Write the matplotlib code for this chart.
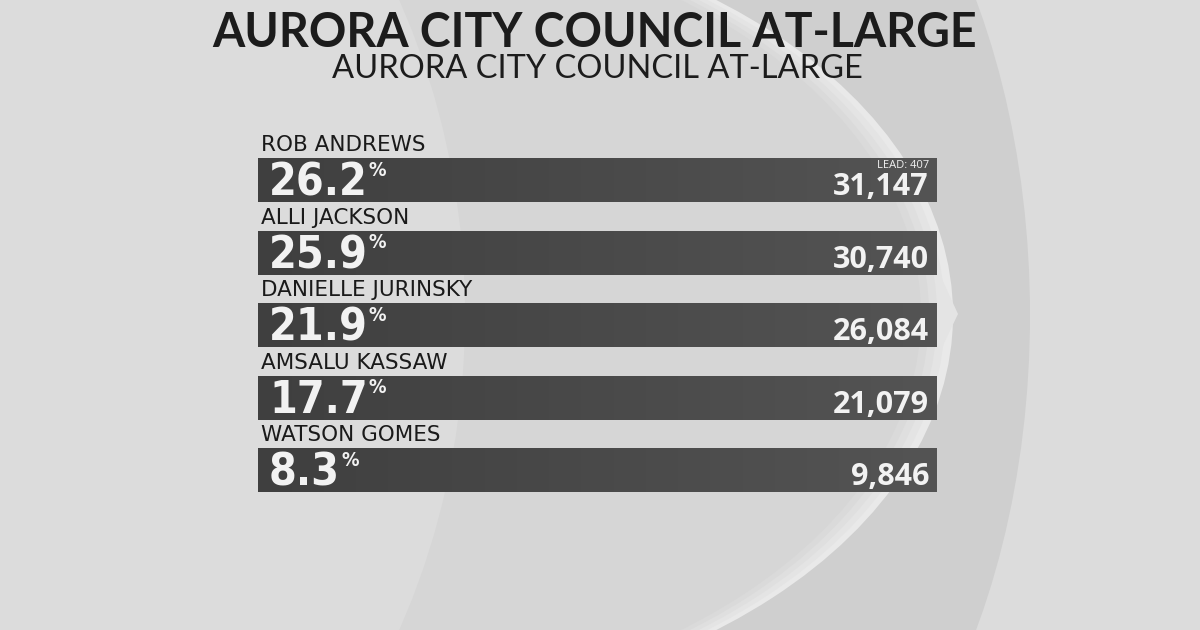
import matplotlib.pyplot as plt
from matplotlib.patches import Ellipse, Polygon
from matplotlib.colors import LinearSegmentedColormap
from matplotlib import font_manager
import numpy as np

title = 'AURORA CITY COUNCIL AT-LARGE'
subtitle = 'AURORA CITY COUNCIL AT-LARGE'
candidates = ['ROB ANDREWS', 'ALLI JACKSON', 'DANIELLE JURINSKY', 'AMSALU KASSAW', 'WATSON GOMES']
percents = [26.2, 25.9, 21.9, 17.7, 8.3]
votes = [31147, 30740, 26084, 21079, 9846]
lead = 407

# look for a condensed bold face for the big percentages
cond = None
for f in font_manager.fontManager.ttflist:
    s = (f.name + ' ' + str(f.stretch) + ' ' + f.fname).lower()
    if ('condensed' in s or 'narrow' in s) and f.weight in ('bold', 700, 'heavy', 800, 'black', 900):
        cond = font_manager.FontProperties(fname=f.fname)
        break
if cond is None:
    cond = font_manager.FontProperties(family='Roboto', weight='bold')

fig = plt.figure(figsize=(12, 6.3), dpi=100)
fig.patch.set_facecolor('#dcdcdc')
ax = fig.add_axes([0, 0, 1, 1])
ax.set_xlim(0, 1200)
ax.set_ylim(630, 0)
ax.axis('off')

# background swooshes
ax.add_patch(Ellipse((668, 315), 724, 1200, color='#cfcfcf', zorder=0, lw=0))
for k, c in enumerate(['#e9e9e9', '#e4e4e4', '#dfdfdf', '#dadada', '#d6d6d6']):
    ax.add_patch(Ellipse((336 - 6 * k, 315), 1234 - 4 * k, 800 - 2 * k, color=c, zorder=0, lw=0))
ax.add_patch(Ellipse((-150, 315), 1230, 1400, color='#dcdcdc', zorder=0, lw=0))
ax.add_patch(Polygon([[937, 268], [958, 314], [937, 358]], closed=True, color='#e4e4e4', zorder=1, lw=0))

ax.text(595, 33, title, ha='center', va='center', fontsize=33.5, fontweight='bold',
        family='Lato', color='#1c1c1c')
ax.text(597, 69, subtitle, ha='center', va='center', fontsize=23.5, fontweight='normal',
        family='Lato', color='#1c1c1c')

ypos = 180 + 72.6 * np.arange(len(candidates))
x0, x1 = 258, 937
bars = ax.barh(ypos, x1 - x0, left=x0, height=44, color='#474747', zorder=2)

# left-to-right shading on the bars
cmap = LinearSegmentedColormap.from_list('bar', ['#3f3f3f', '#545454'])
grad = np.linspace(0, 1, 256).reshape(1, -1)
for b in bars:
    im = ax.imshow(grad, cmap=cmap, extent=[x0, x1, b.get_y() + b.get_height(), b.get_y()],
                   aspect='auto', zorder=2.5)
    im.set_clip_path(b)

for i, y in enumerate(ypos):
    ax.text(x0 + 3, y - 35, candidates[i], ha='left', va='center', fontsize=15.5,
            family='DejaVu Sans', color='#1a1a1a')
    t = ax.text(x0 + 11, y + 3, f'{percents[i]}', ha='left', va='center',
                fontproperties=cond, color='#f2f2f2', zorder=3)
    t.set_fontsize(32)
    fig.canvas.draw()
    bb = t.get_window_extent()
    pc = ax.text(bb.x1 + 1, y - 10, '%', ha='left', va='center', fontproperties=cond,
                 color='#f2f2f2', zorder=3)
    pc.set_fontsize(14)
    ax.text(x1 - 8, y + 7, f'{votes[i]:,}', ha='right', va='center', fontsize=22,
            family='Open Sans', fontweight='bold', color='#f2f2f2', zorder=3)
    if i == 0:
        ax.text(x1 - 8, y - 15, f'LEAD: {lead}', ha='right', va='center', fontsize=8,
                family='Open Sans', color='#f2f2f2', zorder=3)

ax.set_xlim(0, 1200)
ax.set_ylim(630, 0)
fig.savefig('out.png', dpi=100, facecolor=fig.get_facecolor())
